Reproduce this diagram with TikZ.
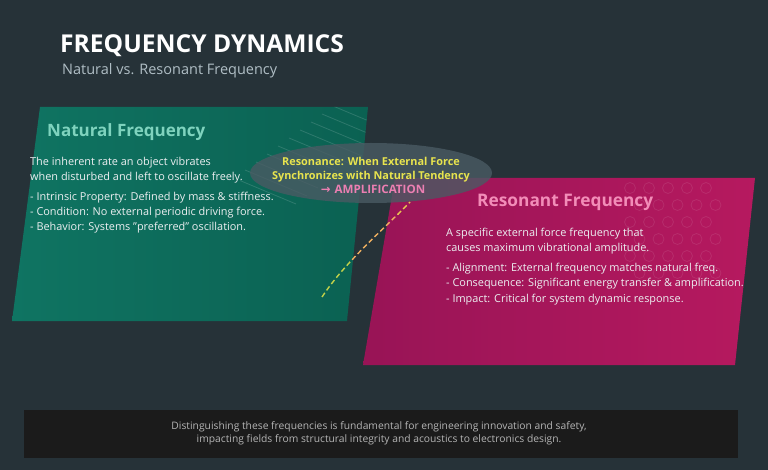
\documentclass[tikz,border=0pt]{standalone}
\usepackage{fontspec}
\setmainfont{Open Sans}
\usetikzlibrary{shapes.geometric}
\definecolor{bg}{HTML}{263238}
\definecolor{greenA}{HTML}{0F7462}
\definecolor{greenB}{HTML}{0B6152}
\definecolor{magA}{HTML}{981456}
\definecolor{magB}{HTML}{B6195F}
\definecolor{natTitle}{HTML}{7FD3BE}
\definecolor{resTitle}{HTML}{F28DB8}
\definecolor{bodyW}{HTML}{ECEFF1}
\definecolor{subGrey}{HTML}{B0BEC5}
\definecolor{ellFill}{HTML}{4A5A63}
\definecolor{resYellow}{HTML}{E8E44E}
\definecolor{ampPink}{HTML}{EC7FB2}
\definecolor{footBg}{HTML}{1B1B1B}
\definecolor{footTxt}{HTML}{B5B5B5}
\definecolor{dashLow}{HTML}{C3D24A}
\definecolor{dashMid}{HTML}{F0B060}
\definecolor{dashTop}{HTML}{E8C850}
\tikzset{
  txt/.style={anchor=base west, inner sep=0pt},
  ctxt/.style={anchor=base, inner sep=0pt},
  body/.style={txt, text=bodyW, font=\fontsize{10.9}{12}\selectfont},
  hatch/.style={white, opacity=0.14, line width=0.8pt},
  ring/.style={white, opacity=0.09, line width=0.8pt},
  dashline/.style={line width=1.4pt, dash pattern=on 5pt off 3pt},
}
\begin{document}
\begin{tikzpicture}[x=1pt,y=-1pt]
\useasboundingbox (0,0) rectangle (768,470);
\fill[bg] (0,0) rectangle (768,470);

% title
\node[txt, text=white, font=\fontsize{24.6}{26}\bfseries] (title) at (60,53) {FREQUENCY DYNAMICS};
\node[txt, text=subGrey, font=\fontsize{14.5}{16}\selectfont] (sub) at (62,75) {Natural vs. Resonant Frequency};

% green panel
\path[left color=greenA, right color=greenB] (40,107) -- (368,107) -- (347,321) -- (12,321) -- cycle;
\begin{scope}
  \clip (40,107) -- (368,107) -- (347,321) -- (12,321) -- cycle;
  \clip (240,105) rectangle (372,210);
  \foreach \i in {0,...,9}{
    \draw[hatch] (234+11*\i,178-8*\i) -- ++(62,26);
  }
\end{scope}

% magenta panel
\path[left color=magA, right color=magB] (395,178) -- (755,178) -- (735,365) -- (363,365) -- cycle;
\begin{scope}
  \clip (395,178) -- (755,178) -- (735,365) -- (363,365) -- cycle;
  \foreach \r in {0,...,5}{
    \foreach \c in {0,...,4}{
      \pgfmathsetmacro\xx{630+19*\c+mod(\r,2)*9.5}
      \pgfmathsetmacro\yy{188+17*\r}
      \draw[ring] (\xx,\yy) circle (5.5);
    }
  }
\end{scope}

% natural text
\node[txt, text=natTitle, font=\fontsize{17}{19}\bfseries] (nt) at (47,137) {Natural Frequency};
\node[body] (n1) at (30,166) {The inherent rate an object vibrates};
\node[body] (n2) at (30,181) {when disturbed and left to oscillate freely.};
\node[body] (n3) at (30,201) {- Intrinsic Property: Defined by mass \& stiffness.};
\node[body] (n4) at (30,216) {- Condition: No external periodic driving force.};
\node[body] (n5) at (30,231) {- Behavior: Systems "preferred" oscillation.};

% resonant text
\node[txt, text=resTitle, font=\fontsize{17.3}{19}\bfseries] (rt) at (477,207) {Resonant Frequency};
\node[body] (r1) at (446,237) {A specific external force frequency that};
\node[body] (r2) at (446,252) {causes maximum vibrational amplitude.};
\node[body] (r3) at (446,272) {- Alignment: External frequency matches natural freq.};
\node[body] (r4) at (446,287) {- Consequence: Significant energy transfer \& amplification.};
\node[body] (r5) at (446,302) {- Impact: Critical for system dynamic response.};

% ellipse
\node[ellipse, fill=ellFill, fill opacity=0.8, minimum width=242pt, minimum height=60pt, inner sep=0pt] (ell) at (371,173) {};
\node[ctxt, text=resYellow, font=\fontsize{10.9}{12}\bfseries] (e1) at (371,166) {Resonance: When External Force};
\node[ctxt, text=resYellow, font=\fontsize{10.9}{12}\bfseries] (e2) at (371,180) {Synchronizes with Natural Tendency};
\node[ctxt, text=ampPink, font=\fontsize{11.6}{12}\bfseries] (e3) at (373,194) {\fontspec{DejaVu Sans}\bfseries→ \fontspec{Open Sans}\bfseries AMPLIFICATION};

% dashed connector (colour shifts along its length)
\coordinate (cs) at (322,297);
\coordinate (ce) at (410,202);
\begin{scope}
  \clip (300,262) rectangle (430,310);
  \draw[dashLow, dashline] (cs) .. controls (345,262) and (385,228) .. (ce);
\end{scope}
\begin{scope}
  \clip (300,215) rectangle (430,262);
  \draw[dashMid, dashline] (cs) .. controls (345,262) and (385,228) .. (ce);
\end{scope}
\begin{scope}
  \clip (300,195) rectangle (430,215);
  \draw[dashTop, dashline] (cs) .. controls (345,262) and (385,228) .. (ce);
\end{scope}

% footer
\node[fill=footBg, minimum width=714pt, minimum height=48pt, inner sep=0pt, anchor=north west] (foot) at (24,410) {};
\node[ctxt, text=footTxt, font=\fontsize{10.3}{12}\selectfont] (f1) at (379,429) {Distinguishing these frequencies is fundamental for engineering innovation and safety,};
\node[ctxt, text=footTxt, font=\fontsize{10.3}{12}\selectfont] (f2) at (379,442) {impacting fields from structural integrity and acoustics to electronics design.};
\end{tikzpicture}
\end{document}
